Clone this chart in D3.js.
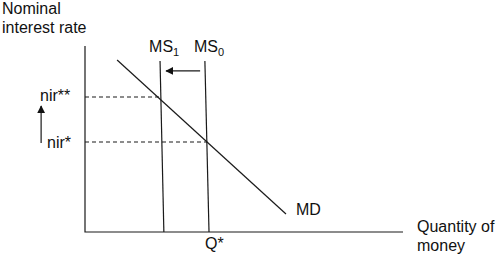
<!DOCTYPE html>
<html lang="en">
<head>
<meta charset="UTF-8">
<title>Money market</title>
<script src="https://d3js.org/d3.v7.min.js"></script>
<style>
  body { margin: 0; background: #fff; }
  text { font-family: "Liberation Sans", Arial, sans-serif; fill: #111; }
</style>
</head>
<body>
<script>
// chart values (quantity on x, nominal interest rate on y, both 0..10)
const axisMax = [10, 10];
const supplyNames = ['MS1', 'MS0'];
const supplyTop = [[2.36, 9.19], [3.77, 9.19]];
const supplyBottom = [[2.48, 0], [3.90, 0]];
const demandLine = [[1.01, 9.25], [6.32, 0.97]];
const rateNames = ['nir**', 'nir*'];
const rateLevels = [7.26, 4.84];
const rateEnds = [2.39, 3.84];
const shiftArrow = [[3.62, 8.66], [2.55, 8.66]];
const riseArrow = [[-1.38, 4.78], [-1.38, 6.77]];

const width = 499, height = 258;

const svg = d3.select('body').append('svg')
    .attr('width', width)
    .attr('height', height);

const x = d3.scaleLinear().domain([0, axisMax[0]]).range([85, 403]);
const y = d3.scaleLinear().domain([0, axisMax[1]]).range([232, 46]);

svg.append('defs').append('marker')
    .attr('id', 'head')
    .attr('viewBox', '0 0 10 10')
    .attr('refX', 9).attr('refY', 5)
    .attr('markerWidth', 8).attr('markerHeight', 8)
    .attr('markerUnits', 'userSpaceOnUse')
    .attr('orient', 'auto')
    .append('path')
    .attr('d', 'M0,0 L10,5 L0,10 Z')
    .attr('fill', '#111');

const line = d3.line().x(d => x(d[0])).y(d => y(d[1]));
const ink = '#1a1a1a';

// axes
svg.append('path')
    .attr('d', line([[0, axisMax[1]], [0, 0], [axisMax[0], 0]]))
    .attr('fill', 'none').attr('stroke', ink).attr('stroke-width', 1.2);

// dashed rate levels
svg.selectAll('.lvl')
    .data(rateLevels)
    .enter().append('path')
    .attr('d', (d, i) => line([[0, d], [rateEnds[i], d]]))
    .attr('stroke', ink).attr('stroke-width', 1.1)
    .attr('stroke-dasharray', '4,3');

// money supply lines
svg.selectAll('.ms')
    .data(supplyNames)
    .enter().append('path')
    .attr('d', (d, i) => line([supplyTop[i], supplyBottom[i]]))
    .attr('stroke', ink).attr('stroke-width', 1.2);

// money demand
svg.append('path')
    .attr('d', line(demandLine))
    .attr('stroke', ink).attr('stroke-width', 1.2);

// arrows
[shiftArrow, riseArrow].forEach(a => {
    svg.append('path')
        .attr('d', line(a))
        .attr('stroke', ink).attr('stroke-width', 1.2)
        .attr('marker-end', 'url(#head)');
});

// labels
const fs = 16;
function label(tx, ty, str, sub) {
    const t = svg.append('text')
        .attr('x', tx).attr('y', ty)
        .style('font-size', fs + 'px')
        .text(str);
    if (sub) {
        t.append('tspan').attr('dy', 4).style('font-size', '11px').text(sub);
    }
}

label(2, 14, 'Nominal');
label(2, 33, 'interest rate');
supplyNames.forEach((n, i) => {
    label(x(supplyTop[i][0]) - 11, 52, 'MS', n.slice(2));
});
label(40, y(rateLevels[0]) + 4, rateNames[0]);
label(47, y(rateLevels[1]) + 6, rateNames[1]);
label(x(supplyBottom[1][0]) - 4, 249, 'Q*');
label(x(demandLine[1][0]) + 10, y(demandLine[1][1]) + 1, 'MD');
label(417, 232, 'Quantity of');
label(417, 251, 'money');
</script>
</body>
</html>
